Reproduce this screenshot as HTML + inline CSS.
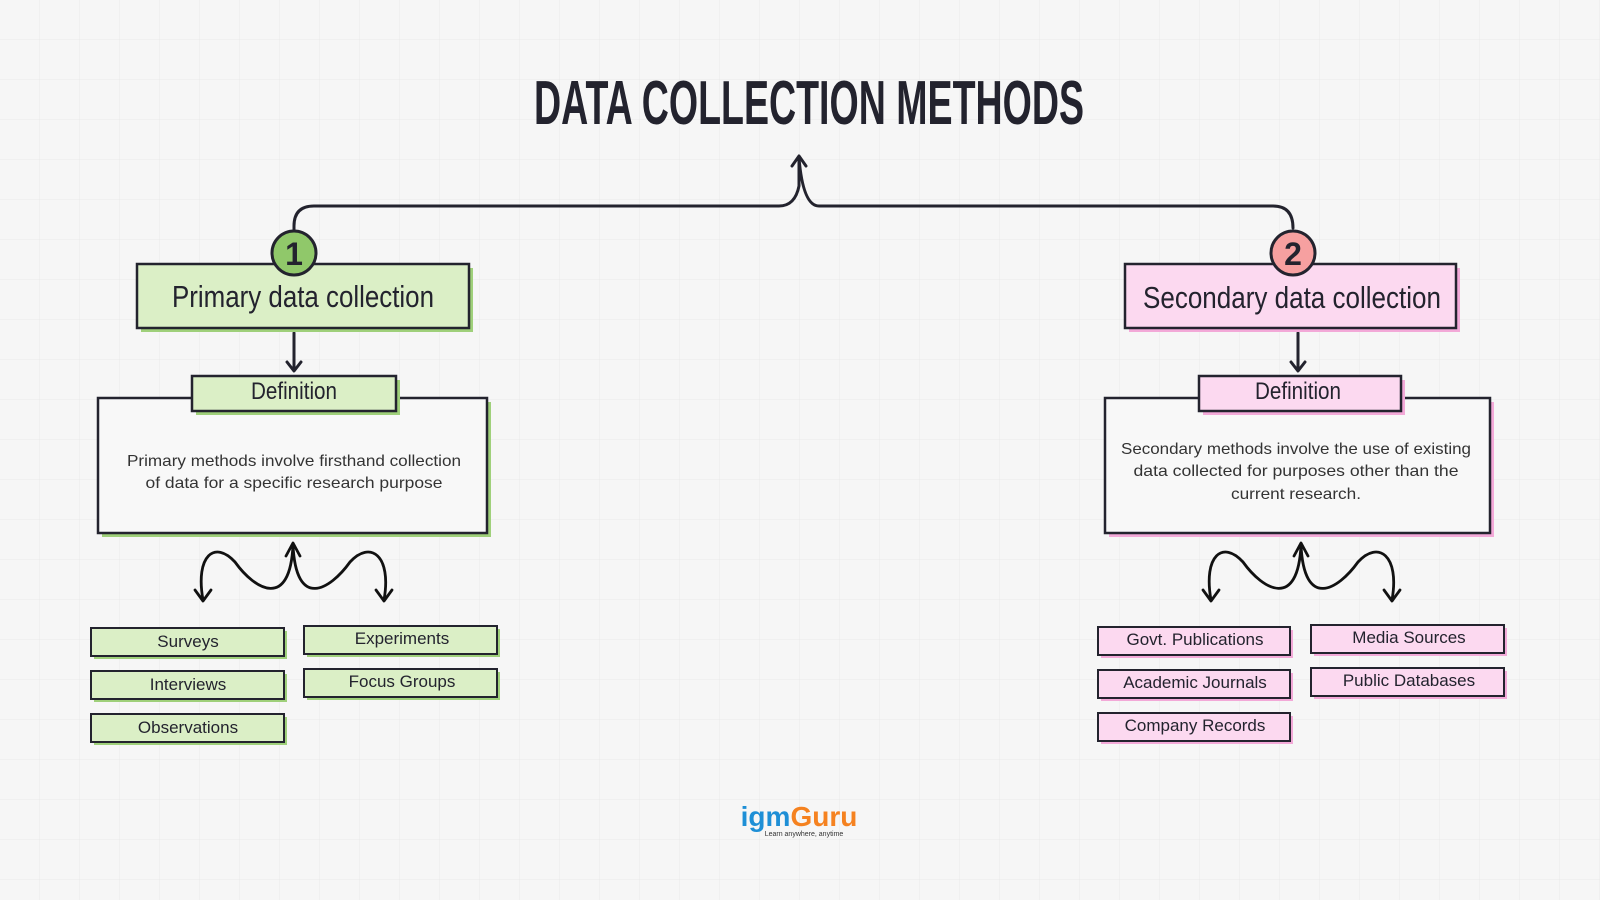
<!DOCTYPE html>
<html><head><meta charset="utf-8"><style>
html,body{margin:0;padding:0;width:1600px;height:900px;overflow:hidden;background:#f6f6f6;}
svg{display:block}
.h{font-family:"Liberation Sans Narrow","Liberation Sans",sans-serif;fill:#23232e;}
.b{font-family:"Liberation Sans",sans-serif;fill:#333;font-size:16px;}
</style></head><body>
<svg width="1600" height="900" viewBox="0 0 1600 900" xmlns="http://www.w3.org/2000/svg">
<defs>
<pattern id="g" width="40" height="40" patternUnits="userSpaceOnUse">
<path d="M40 0V40M0 40H40" stroke="#e9e9e9" stroke-width="1" fill="none"/>
</pattern>
</defs>
<rect width="1600" height="900" fill="#f6f6f6"/>
<rect width="1600" height="900" fill="url(#g)"/>

<text x="809" y="124" text-anchor="middle" class="h" font-size="62" font-weight="bold" textLength="550" lengthAdjust="spacingAndGlyphs">DATA COLLECTION METHODS</text>

<g fill="none" stroke="#23232e" stroke-width="3" stroke-linecap="round" stroke-linejoin="round">
<path d="M294 232 V226 Q294 206 314 206 H779 Q795 206 799 186 V158 Q803 206 819 206 H1273 Q1293 206 1293 228"/>
<path d="M792 166 L799 156 L806 166"/>
<path d="M294 333 V370 M287 362 L294 371 L301 362"/>
<path d="M1298 333 V370 M1291 362 L1298 371 L1305 362"/>
</g>

<!-- primary box -->
<rect x="141" y="268" width="332" height="64" fill="#9fd07a"/>
<rect x="137" y="264" width="332" height="64" fill="#dbefc6" stroke="#23232e" stroke-width="2.5"/>
<circle cx="294" cy="253" r="22" fill="#90c86a" stroke="#23232e" stroke-width="3"/>
<text x="294" y="265" text-anchor="middle" class="h" font-size="32" font-weight="bold">1</text>
<text x="303" y="307" text-anchor="middle" class="h" font-size="31" textLength="262" lengthAdjust="spacingAndGlyphs">Primary data collection</text>

<!-- secondary box -->
<rect x="1129" y="268" width="331" height="64" fill="#f3a9d8"/>
<rect x="1125" y="264" width="331" height="64" fill="#fcd9f0" stroke="#23232e" stroke-width="2.5"/>
<circle cx="1293" cy="253" r="22" fill="#f6a0a0" stroke="#23232e" stroke-width="3"/>
<text x="1293" y="265" text-anchor="middle" class="h" font-size="32" font-weight="bold">2</text>
<text x="1292" y="308" text-anchor="middle" class="h" font-size="31" textLength="298" lengthAdjust="spacingAndGlyphs">Secondary data collection</text>

<!-- definition boxes -->
<rect x="102" y="402" width="389" height="135" fill="#9fd07a"/>
<rect x="98" y="398" width="389" height="135" fill="#f8f8f8" stroke="#23232e" stroke-width="2.5"/>
<rect x="196" y="380" width="204" height="35" fill="#9fd07a"/>
<rect x="192" y="376" width="204" height="35" fill="#dbefc6" stroke="#23232e" stroke-width="2.5"/>
<text x="294" y="399" text-anchor="middle" class="h" font-size="24" textLength="86" lengthAdjust="spacingAndGlyphs">Definition</text>
<text x="294" y="466" text-anchor="middle" class="b" textLength="334" lengthAdjust="spacingAndGlyphs">Primary methods involve firsthand collection</text>
<text x="294" y="488" text-anchor="middle" class="b" textLength="297" lengthAdjust="spacingAndGlyphs">of data for a specific research purpose</text>

<rect x="1109" y="402" width="385" height="135" fill="#f3a9d8"/>
<rect x="1105" y="398" width="385" height="135" fill="#f8f8f8" stroke="#23232e" stroke-width="2.5"/>
<rect x="1203" y="380" width="202" height="35" fill="#f3a9d8"/>
<rect x="1199" y="376" width="202" height="35" fill="#fcd9f0" stroke="#23232e" stroke-width="2.5"/>
<text x="1298" y="399" text-anchor="middle" class="h" font-size="24" textLength="86" lengthAdjust="spacingAndGlyphs">Definition</text>
<text x="1296" y="454" text-anchor="middle" class="b" textLength="350" lengthAdjust="spacingAndGlyphs">Secondary methods involve the use of existing</text>
<text x="1296" y="476" text-anchor="middle" class="b" textLength="325" lengthAdjust="spacingAndGlyphs">data collected for purposes other than the</text>
<text x="1296" y="499" text-anchor="middle" class="b" textLength="130" lengthAdjust="spacingAndGlyphs">current research.</text>

<!-- squiggles -->
<g fill="none" stroke="#111" stroke-width="2.8" stroke-linecap="round" stroke-linejoin="round">
<path d="M293 545 C290 610 255 590 235 562 C215 540 195 555 203 600 M195 590 L203 601 L211 590"/>
<path d="M293 545 C296 610 330 590 350 562 C370 540 392 555 384 600 M376 590 L384 601 L392 590"/>
<path d="M286 556 L293 543 L300 556"/>
<path d="M1301 545 C1298 610 1263 590 1243 562 C1223 540 1203 555 1211 600 M1203 590 L1211 601 L1219 590"/>
<path d="M1301 545 C1304 610 1338 590 1358 562 C1378 540 1400 555 1392 600 M1384 590 L1392 601 L1400 590"/>
<path d="M1294 556 L1301 543 L1308 556"/>
</g>

<!-- items -->
<g class="h" font-size="17" text-anchor="middle">
<g>
<rect x="94" y="631" width="193" height="28" fill="#9fd07a"/><rect x="91" y="628" width="193" height="28" fill="#dbefc6" stroke="#23232e" stroke-width="2"/><text x="188" y="647">Surveys</text>
<rect x="94" y="674" width="193" height="28" fill="#9fd07a"/><rect x="91" y="671" width="193" height="28" fill="#dbefc6" stroke="#23232e" stroke-width="2"/><text x="188" y="690">Interviews</text>
<rect x="94" y="717" width="193" height="28" fill="#9fd07a"/><rect x="91" y="714" width="193" height="28" fill="#dbefc6" stroke="#23232e" stroke-width="2"/><text x="188" y="733">Observations</text>
<rect x="307" y="629" width="193" height="28" fill="#9fd07a"/><rect x="304" y="626" width="193" height="28" fill="#dbefc6" stroke="#23232e" stroke-width="2"/><text x="402" y="644">Experiments</text>
<rect x="307" y="672" width="193" height="28" fill="#9fd07a"/><rect x="304" y="669" width="193" height="28" fill="#dbefc6" stroke="#23232e" stroke-width="2"/><text x="402" y="687">Focus Groups</text>
</g>
<g>
<rect x="1101" y="630" width="192" height="28" fill="#f3a9d8"/><rect x="1098" y="627" width="192" height="28" fill="#fcd9f0" stroke="#23232e" stroke-width="2"/><text x="1195" y="645">Govt. Publications</text>
<rect x="1101" y="673" width="192" height="28" fill="#f3a9d8"/><rect x="1098" y="670" width="192" height="28" fill="#fcd9f0" stroke="#23232e" stroke-width="2"/><text x="1195" y="688">Academic Journals</text>
<rect x="1101" y="716" width="192" height="28" fill="#f3a9d8"/><rect x="1098" y="713" width="192" height="28" fill="#fcd9f0" stroke="#23232e" stroke-width="2"/><text x="1195" y="731">Company Records</text>
<rect x="1314" y="628" width="193" height="28" fill="#f3a9d8"/><rect x="1311" y="625" width="193" height="28" fill="#fcd9f0" stroke="#23232e" stroke-width="2"/><text x="1409" y="643">Media Sources</text>
<rect x="1314" y="671" width="193" height="28" fill="#f3a9d8"/><rect x="1311" y="668" width="193" height="28" fill="#fcd9f0" stroke="#23232e" stroke-width="2"/><text x="1409" y="686">Public Databases</text>
</g>
</g>

<!-- logo -->
<text x="799" y="826" text-anchor="middle" font-family="Liberation Sans, sans-serif" font-size="28" font-weight="bold"><tspan fill="#1e8fd6">igm</tspan><tspan fill="#f58220">Guru</tspan></text>
<text x="804" y="836" text-anchor="middle" font-family="Liberation Sans, sans-serif" font-size="7" fill="#333">Learn anywhere, anytime</text>
</svg>
</body></html>
